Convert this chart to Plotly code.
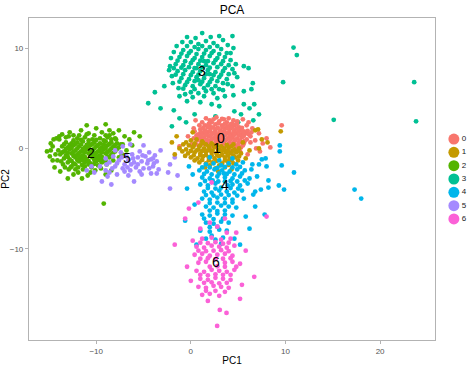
import plotly.graph_objects as go

clusters = ["0", "1", "2", "3", "4", "5", "6"]
colors = ["#F8766D", "#C49A00", "#53B400", "#00C094", "#00B6EB", "#A58AFF", "#FB61D7"]

# cluster label positions (PC1, PC2)
label_x = [3.2, 2.8, -10.5, 1.13, 3.6, -6.7, 2.64]
label_y = [1.05, 0.06, -0.5, 7.7, -3.6, -1.0, -11.3]

pts0 = [(2.2,2.6),(3.0,2.7),(3.8,2.6),(4.4,2.5),
        (1.5,2.3),(2.0,2.2),(2.6,2.4),(3.3,2.3),(3.9,2.2),(4.6,2.3),(5.1,2.1),
        (1.0,1.9),(1.5,1.8),(2.1,2.0),(2.6,1.9),(3.1,1.8),(3.6,2.0),(4.1,1.9),(4.6,1.8),(5.2,1.9),(5.6,1.7),
        (0.8,1.4),(1.3,1.5),(1.8,1.6),(2.3,1.5),(2.8,1.4),(3.3,1.6),(3.8,1.5),(4.3,1.4),(4.8,1.5),(5.3,1.4),(5.8,1.5),
        (0.9,1.0),(1.4,1.1),(1.9,1.2),(2.4,1.0),(2.9,1.1),(3.4,1.2),(3.9,1.0),(4.4,1.1),(4.9,1.0),(5.4,1.1),(5.9,0.9),
        (1.1,0.6),(1.6,0.7),(2.1,0.8),(2.6,0.6),(3.1,0.7),(3.6,0.8),(4.1,0.6),(4.6,0.7),(5.1,0.6),(5.6,0.5),
        (1.8,0.3),(2.3,0.2),(3.3,0.3),(3.8,0.2),(4.3,0.3),(4.8,0.2),(5.3,0.1),
        (3.5,-0.1),(4.1,-0.2),(4.7,-0.2),(5.2,-0.3),
        (6.3,1.2),(6.8,0.8),(7.2,1.5),(6.5,2.0),(7.6,0.5),(6.9,0.0),(8.0,1.0),(7.3,-0.3),(6.1,2.6),(5.5,2.9),
        (1.6,3.0),(0.3,2.0),(-0.3,1.2),(0.1,0.4),(9.6,2.3),(6.0,-0.6),(8.4,0.1),(0.5,2.8),(2.7,3.1),(4.0,3.0),
        (-1.2,0.2),(2.4,2.9),(3.5,2.9),(4.9,2.7),(1.2,2.6),
        (1.9,2.45),(2.9,2.5),(3.6,2.45),(4.2,2.4),(4.9,2.45),
        (1.3,2.05),(1.8,2.1),(2.35,2.1),(2.85,2.05),(3.35,2.1),(3.85,2.05),(4.35,2.1),(4.85,2.0),(5.4,2.05),
        (1.05,1.65),(1.55,1.7),(2.05,1.75),(2.55,1.65),(3.05,1.7),(3.55,1.75),(4.05,1.65),(4.55,1.7),(5.05,1.7),(5.5,1.6),(6.0,1.75),
        (0.6,1.3),(1.1,1.25),(1.6,1.35),(2.1,1.3),(2.6,1.25),(3.1,1.35),(3.6,1.3),(4.1,1.25),(4.6,1.35),(5.1,1.3),(5.6,1.25),(6.1,1.4),
        (0.7,0.85),(1.2,0.9),(1.7,0.85),(2.2,0.95),(2.7,0.85),(3.2,0.9),(3.7,0.85),(4.2,0.9),(4.7,0.85),(5.2,0.8),(5.7,0.75),
        (1.4,0.45),(2.0,0.5),(2.8,0.5),(3.5,0.5),(4.0,0.45),(4.5,0.5),(5.0,0.4),(5.5,0.3),
        (0.4,1.7),(0.3,1.0),(0.6,0.4),(0.9,2.3),(5.9,2.3),(6.3,0.6),(6.4,1.6),(2.0,2.8),(3.3,2.95),(4.5,2.8)]

pts1 = [(0.0,0.8),(0.6,0.9),(1.2,0.7),
        (-0.8,0.4),(-0.2,0.3),(0.4,0.5),(1.0,0.3),(1.6,0.4),(2.2,0.5),(2.8,0.3),(4.5,0.4),(5.5,0.6),
        (-1.2,0.0),(-0.5,-0.1),(0.2,0.1),(0.8,-0.1),(1.4,0.0),(2.0,-0.1),(2.5,0.1),(3.0,-0.1),(3.5,0.0),(4.0,0.1),(4.6,-0.1),(5.1,0.0),
        (-0.3,-0.5),(0.4,-0.4),(1.0,-0.5),(1.6,-0.3),(2.2,-0.4),(2.7,-0.5),(3.2,-0.3),(3.7,-0.4),(4.2,-0.5),(4.8,-0.4),(5.3,-0.5),
        (0.0,-0.9),(0.7,-1.0),(1.3,-0.8),(1.9,-0.9),(2.5,-1.0),(3.0,-0.8),(3.6,-0.9),(4.1,-1.0),(4.7,-0.9),
        (0.9,-1.4),(1.6,-1.5),(2.3,-1.4),(3.3,-1.5),(3.9,-1.3),(4.5,-1.5),(5.0,-1.2),
        (1.5,-1.9),(2.6,-2.0),(3.6,-1.9),(4.3,-2.1),
        (-2.0,0.6),(-1.7,-0.6),(6.2,-0.2),(7.5,0.9),(6.8,1.8),(-1.5,1.2),(5.8,-1.0),(0.2,1.6),(9.5,1.7),
        (7.1,1.9),(8.1,0.6),(7.2,0.0),
        (0.3,0.25),(0.9,0.2),(1.3,0.55),(1.9,0.2),(2.4,0.3),(3.2,0.2),(3.8,0.35),(4.3,0.2),(-0.5,0.6),
        (-0.9,-0.3),(0.0,-0.25),(0.6,-0.2),(1.2,-0.25),(1.8,-0.2),(2.3,-0.25),(2.9,-0.2),(3.4,-0.2),(3.9,-0.25),(4.4,-0.25),(5.0,-0.25),
        (-0.6,-0.75),(0.3,-0.7),(1.0,-0.7),(1.6,-0.65),(2.2,-0.7),(2.8,-0.7),(3.3,-0.65),(3.9,-0.7),(4.5,-0.7),(5.1,-0.8),
        (0.4,-1.2),(1.2,-1.15),(1.9,-1.2),(2.7,-1.25),(3.6,-1.2),(4.3,-1.2),(2.0,-1.7),(3.0,-1.7),(4.0,-1.65),(2.9,-2.3)]

pts2 = [(-12.0,1.0),(-11.2,1.1),(-10.4,0.9),(-9.6,1.0),(-8.8,1.1),
        (-13.2,0.6),(-12.6,0.5),(-12.0,0.6),(-11.4,0.7),(-10.8,0.5),(-10.2,0.6),(-9.6,0.5),(-9.0,0.7),(-8.4,0.6),(-7.8,0.5),
        (-13.6,0.2),(-13.0,0.1),(-12.4,0.3),(-11.8,0.2),(-11.2,0.1),(-10.6,0.3),(-10.0,0.2),(-9.4,0.1),(-8.8,0.3),(-8.2,0.2),(-7.6,0.1),
        (-14.0,-0.2),(-13.4,-0.3),(-12.8,-0.1),(-12.2,-0.2),(-11.6,-0.3),(-11.0,-0.1),(-10.4,-0.2),(-9.8,-0.3),(-9.2,-0.1),(-8.6,-0.2),(-8.0,-0.3),
        (-13.8,-0.6),(-13.2,-0.7),(-12.6,-0.5),(-12.0,-0.6),(-11.4,-0.7),(-10.8,-0.5),(-10.2,-0.6),(-9.6,-0.7),(-9.0,-0.5),(-8.4,-0.6),
        (-13.4,-1.0),(-12.8,-1.1),(-12.2,-0.9),(-11.6,-1.0),(-11.0,-1.1),(-10.4,-0.9),(-9.8,-1.0),(-9.2,-1.1),(-8.6,-0.9),
        (-13.0,-1.4),(-12.4,-1.5),(-11.8,-1.3),(-11.2,-1.4),(-10.6,-1.5),(-10.0,-1.3),(-9.4,-1.4),
        (-12.6,-1.8),(-11.9,-1.9),(-11.2,-1.8),(-10.5,-1.9),(-9.8,-1.7),
        (-15.2,-0.3),(-14.8,0.5),(-14.6,-1.2),(-14.2,1.0),(-14.4,-1.9),(-13.6,1.4),(-13.8,-2.3),(-12.8,1.6),
        (-12.4,-2.6),(-11.6,1.8),(-11.0,2.3),(-10.6,-2.4),(-10.0,2.0),(-9.4,1.6),(-9.0,2.4),(-8.2,1.5),(-7.6,1.8),
        (-7.0,1.2),(-6.5,0.9),(-6.0,1.6),(-5.4,1.2),(-7.2,0.4),(-6.8,-0.2),(-13.0,-3.0),(-9.2,-5.5),(-8.4,-2.2),
        (-9.0,-2.6),(-11.5,-3.0),(-12.4,1.3),(-10.8,1.5),(-8.0,1.0),(-14.9,-0.8),
        (-12.4,0.8),(-11.6,0.85),(-10.8,0.8),(-10.0,0.85),(-9.2,0.8),(-8.4,0.9),
        (-13.4,0.4),(-12.8,0.35),(-12.2,0.45),(-11.6,0.4),(-11.0,0.35),(-10.4,0.45),(-9.8,0.35),(-9.2,0.4),(-8.6,0.45),(-8.0,0.35),(-7.4,0.4),
        (-13.2,-0.05),(-12.6,0.05),(-12.0,0.0),(-11.4,-0.05),(-10.8,0.05),(-10.2,0.0),(-9.6,-0.05),(-9.0,0.05),(-8.4,0.0),(-7.8,-0.05),
        (-13.6,-0.4),(-13.0,-0.45),(-12.4,-0.35),(-11.8,-0.45),(-11.2,-0.4),(-10.6,-0.35),(-10.0,-0.45),(-9.4,-0.4),(-8.8,-0.35),(-8.2,-0.45),
        (-13.0,-0.85),(-12.4,-0.75),(-11.8,-0.8),(-11.2,-0.85),(-10.6,-0.75),(-10.0,-0.8),(-9.4,-0.85),(-8.8,-0.8),
        (-12.6,-1.25),(-12.0,-1.15),(-11.4,-1.2),(-10.8,-1.25),(-10.2,-1.15),(-9.6,-1.2),(-9.0,-1.25),
        (-12.2,-1.6),(-11.5,-1.65),(-10.8,-1.6),(-10.2,-1.55),
        (-14.6,0.2),(-14.3,-0.6),(-13.9,0.9),(-13.5,-1.6),(-12.9,-2.1),(-11.9,-2.4),(-10.9,-2.7),(-10.1,-2.2),
        (-9.0,1.3),(-8.6,1.8),(-7.3,-0.6),(-6.2,0.3),
        (-14.5,0.9),(-13.9,1.2),(-13.2,1.1),(-12.9,1.2),(-14.1,-1.2),(-13.7,-1.3),(-13.3,-1.9),(-12.2,-2.1),
        (-11.4,-2.1),(-9.5,-2.0),(-8.9,-1.6),(-8.2,-1.2),(-7.6,-0.9),(-7.9,0.9),(-8.6,1.3),(-10.2,1.3),
        (-11.0,1.4),(-11.8,1.3),(-14.8,-0.2),(-12.7,-1.9)]

pts3 = [(0.0,10.6),(0.8,10.4),(1.6,10.7),(2.4,10.5),
        (-0.8,9.8),(0.0,9.7),(0.8,9.9),(1.6,9.8),(2.4,9.7),(3.2,9.9),
        (-1.2,9.1),(-0.4,9.2),(0.4,9.0),(1.2,9.1),(2.0,9.2),(2.8,9.0),(3.6,9.1),
        (-1.6,8.4),(-0.8,8.3),(0.0,8.5),(0.8,8.4),(1.6,8.3),(2.4,8.5),(3.2,8.4),(4.0,8.3),
        (-1.4,7.7),(-0.6,7.8),(0.2,7.6),(1.0,7.7),(1.8,7.8),(2.6,7.6),(3.4,7.7),
        (-1.0,7.0),(-0.2,6.9),(0.6,7.1),(1.4,7.0),(2.2,6.9),(3.0,7.1),(3.8,6.9),
        (-0.6,6.3),(0.2,6.2),(1.0,6.4),(1.8,6.3),(2.6,6.2),
        (0.0,5.6),(0.8,5.5),(1.6,5.7),(2.4,5.5),
        (1.2,11.5),(-0.4,11.1),(3.0,11.2),(3.4,10.8),(4.2,9.5),(4.6,7.5),(-2.0,7.2),(-1.8,9.6),(-2.2,8.2),
        (4.4,6.2),(3.6,5.2),(-1.2,5.2),(-0.4,4.7),(1.0,4.6),(2.2,4.4),(3.0,4.2),(5.6,8.2),
        (-1.8,3.8),(0.4,3.4),(2.6,3.2),(5.0,2.6),(6.6,2.8),(-3.2,4.0),(-4.5,4.5),(-2.0,2.2),(-0.5,2.6),
        (9.75,6.6),(10.85,10.05),(11.2,9.3),(23.6,6.6),(23.8,2.7),(15.1,2.85),
        (4.4,11.2),(4.5,10.0),(4.75,8.4),(6.1,8.0),(4.9,7.1),(6.55,6.5),(6.4,5.9),(5.6,5.7),(4.5,5.3),
        (5.6,4.4),(6.7,4.4),(6.2,4.0),(4.6,3.7),(5.3,3.4),(7.2,3.4),(-1.2,3.0),(-3.8,5.6),(-2.8,6.2),
        (0.4,8.0),(1.4,8.7),(2.0,7.4),(0.8,6.8),
        (-0.4,10.2),(0.4,10.1),(1.2,10.2),(2.0,10.1),(2.8,10.2),
        (-1.0,9.45),(-0.2,9.5),(0.6,9.4),(1.4,9.45),(2.2,9.5),(3.0,9.4),(3.8,9.5),
        (-1.4,8.75),(-0.6,8.7),(0.2,8.8),(1.0,8.75),(1.8,8.7),(2.6,8.8),(3.4,8.7),
        (-1.8,8.0),(-1.0,8.05),(-0.2,8.1),(0.6,8.0),(1.2,8.1),(2.0,8.05),(2.8,8.1),(3.6,8.0),
        (-1.6,7.35),(-0.8,7.4),(0.0,7.3),(0.8,7.35),(1.6,7.4),(2.4,7.3),(3.2,7.35),(4.0,7.4),
        (-1.2,6.65),(-0.4,6.6),(0.4,6.7),(1.2,6.65),(2.0,6.6),(2.8,6.7),(3.4,6.5),
        (-0.8,5.95),(0.4,5.9),(1.4,6.0),(2.2,5.9),(3.0,5.9),
        (0.2,5.1),(1.4,5.2),(2.8,5.0),
        (-2.1,9.0),(-1.5,10.2),(-0.9,10.6),(3.9,10.3),(4.2,8.8),(4.4,7.9),(-2.3,7.8),(-1.9,6.5),
        (-1.3,6.0),(3.9,6.4),(3.4,5.8),(-0.6,5.4),(0.5,11.0),(2.1,11.1)]

pts4 = [(1.6,-1.6),(2.4,-1.5),(3.2,-1.7),(4.0,-1.5),(4.8,-1.6),(5.5,-1.4),
        (0.9,-2.2),(1.7,-2.3),(2.5,-2.1),(3.3,-2.2),(4.1,-2.3),(4.9,-2.1),(5.7,-2.2),
        (1.2,-2.9),(2.0,-3.0),(2.8,-2.8),(3.6,-2.9),(4.4,-3.0),(5.2,-2.8),(6.2,-3.0),
        (1.0,-3.6),(1.8,-3.7),(2.6,-3.5),(4.4,-3.6),(5.2,-3.7),(6.0,-3.5),
        (1.4,-4.3),(2.2,-4.4),(3.0,-4.2),(3.8,-4.3),(4.6,-4.4),(5.4,-4.2),
        (1.2,-5.0),(2.0,-5.1),(2.8,-4.9),(3.6,-5.0),(4.4,-5.1),(5.6,-5.0),
        (1.6,-5.8),(2.4,-5.9),(3.2,-5.7),(4.0,-5.8),(4.8,-5.9),
        (1.2,-6.6),(2.0,-6.7),(2.8,-6.5),(3.6,-6.6),(4.4,-6.7),
        (1.6,-7.4),(2.4,-7.5),(3.2,-7.3),(4.0,-7.4),
        (1.0,-8.2),(2.0,-8.3),(3.0,-8.1),(3.8,-8.2),
        (1.6,-9.0),(2.6,-9.1),(3.4,-8.9),
        (0.2,-2.6),(-0.4,-4.0),(0.4,-5.6),(6.6,-4.6),(6.8,-5.8),(17.3,-4.1),(18.0,-5.0),
        (5.8,-6.8),(6.2,-8.0),(0.6,-9.6),(4.6,-9.0),(-0.6,-7.2),(7.8,-6.6),(3.0,-1.2),(2.0,-0.9),(4.4,-1.0),
        (6.5,-1.6),(5.2,-9.6),(-0.2,-1.8),(3.2,-3.9),(3.9,-3.7),(2.9,-3.3),(3.5,-2.5),
        (9.4,0.3),(9.4,-0.3),(7.9,-1.0),(7.5,-1.1),(8.0,-1.8),(7.2,-1.6),(6.4,-2.1),(8.2,-3.2),(7.0,-2.8),
        (9.3,-3.7),(9.85,-4.1),(7.4,-4.1),(6.8,-4.3),(8.2,-3.9),(10.9,-2.4),(9.6,-1.7),
        (1.2,-1.9),(2.0,-1.9),(2.8,-1.95),(3.6,-1.85),(4.4,-1.9),(5.2,-1.85),
        (1.4,-2.55),(2.2,-2.6),(3.0,-2.5),(3.8,-2.55),(4.6,-2.6),(5.4,-2.5),
        (1.5,-3.25),(2.3,-3.2),(3.6,-3.3),(4.2,-3.25),(4.9,-3.3),(5.7,-3.2),
        (1.8,-3.95),(2.6,-4.0),(4.2,-3.95),(5.0,-4.0),
        (1.6,-4.65),(2.4,-4.7),(3.2,-4.6),(4.0,-4.65),(4.9,-4.7),
        (2.0,-5.45),(2.8,-5.4),(3.6,-5.45),(4.4,-5.4),
        (2.0,-6.2),(2.8,-6.25),(3.6,-6.2),(1.4,-7.0),(2.4,-7.05),(3.4,-7.0),
        (2.0,-7.85),(2.8,-7.8),(2.2,-8.7),(3.2,-9.5)]

pts5 = [(-9.6,-1.8),(-9.0,-2.2),(-8.6,-1.4),(-8.2,-0.8),(-8.0,-1.8),(-7.6,-1.2),(-7.4,-0.4),(-7.2,-2.0),
        (-7.0,-1.6),(-6.8,-0.8),(-6.6,-1.2),(-6.4,-2.2),(-6.2,-0.6),(-6.0,-1.4),(-5.8,-1.9),(-5.6,-0.9),
        (-5.4,-0.3),(-5.2,-1.3),(-5.0,-2.0),(-4.8,-0.8),(-4.6,-1.5),(-4.4,-0.4),(-4.2,-1.1),(-4.0,-1.8),
        (-3.8,-0.7),(-3.6,-1.3),(-7.8,-2.6),(-8.8,-2.8),(-6.6,-2.7),(-5.2,-2.6),(-9.4,-3.3),(-10.2,-2.4),
        (-7.2,0.2),(-6.4,0.4),(-5.0,0.3),(-8.4,-3.6),(-6.0,-3.3),(-4.2,-2.5),(-3.4,-2.1),(-8.0,-0.2),
        (-9.0,-1.0),(-10.5,-1.8),(-11.0,-2.2),(-2.4,-2.4),(-2.2,-1.6),(-1.7,-0.9),(-3.2,-0.2),
        (-4.0,-1.0),(-3.6,-2.5),(-2.2,-4.0),(-1.4,-2.7),
        (-8.9,-1.6),(-8.3,-2.0),(-7.8,-1.5),(-7.3,-0.9),(-6.7,-1.9),(-6.1,-1.0),(-5.6,-1.6),(-5.1,-0.7),
        (-4.5,-1.2),(-3.9,-1.5),(-7.0,-2.3),(-6.3,-1.6),(-5.4,-2.3),(-4.4,-2.0),(-8.6,-2.4)]

pts6 = [(1.0,-8.0),(2.8,-7.8),(3.8,-8.4),
        (0.2,-9.2),(1.2,-9.0),(2.2,-8.9),(3.2,-9.1),(4.2,-9.0),
        (0.6,-9.8),(1.4,-9.9),(2.2,-9.7),(3.0,-9.8),(3.8,-9.9),(4.6,-9.7),
        (0.4,-10.6),(1.2,-10.5),(2.0,-10.7),(2.8,-10.6),(3.6,-10.5),(4.4,-10.7),
        (0.8,-11.4),(1.6,-11.3),(3.6,-11.4),(4.4,-11.3),(5.2,-11.5),
        (0.6,-12.2),(1.4,-12.3),(2.2,-12.1),(3.0,-12.2),(3.8,-12.3),(4.6,-12.1),
        (1.0,-13.0),(1.8,-13.1),(2.6,-12.9),(3.4,-13.0),(4.2,-13.1),
        (0.8,-13.8),(1.6,-13.9),(2.4,-13.7),(3.2,-13.8),(4.0,-13.9),
        (1.2,-14.6),(2.0,-14.5),(3.0,-14.7),
        (-1.7,-9.6),(-0.6,-7.0),(8.0,-6.8),(6.7,-12.8),(5.8,-10.2),(-0.4,-11.8),(0.0,-13.2),(5.4,-13.6),
        (4.8,-8.4),(1.8,-15.2),(3.06,-16.1),(3.77,-16.4),(2.78,-17.7),(-0.2,-6.0),(0.8,-5.4),(5.2,-15.0),
        (2.2,-3.4),(3.6,-7.0),(2.0,-7.4),
        (1.0,-9.4),(1.8,-9.45),(2.6,-9.35),(3.4,-9.5),(4.0,-9.4),
        (0.8,-10.2),(1.6,-10.25),(2.4,-10.2),(3.2,-10.15),(4.0,-10.25),
        (1.0,-11.0),(1.8,-10.95),(2.6,-11.05),(3.4,-11.0),(4.2,-10.95),(2.0,-11.8),(2.8,-11.75),(3.6,-11.8),(4.8,-11.8),
        (1.0,-12.6),(1.8,-12.65),(2.6,-12.55),(3.4,-12.6),(4.2,-12.6),
        (1.4,-13.4),(2.2,-13.35),(3.0,-13.45),(3.8,-13.4),
        (1.6,-14.2),(2.6,-14.2),(3.6,-14.3)]

points = {"0": pts0, "1": pts1, "2": pts2, "3": pts3, "4": pts4, "5": pts5, "6": pts6}
draw_order = ["3", "2", "5", "0", "1", "4", "6"]

x_ticks = [-10, 0, 10, 20]
y_ticks = [-10, 0, 10]

FONT = "Liberation Sans, Arial, sans-serif"

fig = go.Figure()
for c in draw_order:
    i = clusters.index(c)
    xs = [p[0] for p in points[c]]
    ys = [p[1] for p in points[c]]
    fig.add_trace(go.Scatter(x=xs, y=ys, mode="markers", showlegend=False,
                             marker=dict(size=4.8, color=colors[i], line=dict(width=0))))

# legend as its own small axis
fig.add_trace(go.Scatter(x=[0] * len(clusters), y=list(range(len(clusters))), mode="markers+text",
                         text=clusters, textposition="middle right",
                         textfont=dict(size=8, color="#222", family=FONT),
                         marker=dict(size=11, color=colors, line=dict(width=0)),
                         xaxis="x2", yaxis="y2", showlegend=False, cliponaxis=False))

for i, c in enumerate(clusters):
    fig.add_annotation(x=label_x[i], y=label_y[i], text=c, showarrow=False,
                       font=dict(size=14, color="black", family=FONT))

axis_common = dict(showgrid=False, zeroline=False, showline=True, linecolor="#b3b3b3", linewidth=1.2,
                   mirror=True, ticks="outside", ticklen=3, tickcolor="#b3b3b3", tickwidth=1,
                   tickfont=dict(size=8, color="#555", family=FONT))

fig.update_layout(
    width=474, height=366,
    margin=dict(l=29, r=4, t=18, b=26, autoexpand=False),
    paper_bgcolor="white", plot_bgcolor="white",
    title=dict(text="PCA", x=(29 + 435) / 2 / 474, xanchor="center", y=1 - 10 / 366, yanchor="middle",
               font=dict(size=12, color="black", family=FONT)),
    xaxis=dict(domain=[0, (435 - 29) / 441], range=[-17.1, 25.8], tickvals=x_ticks,
               title=dict(text="PC1", standoff=3, font=dict(size=10, color="black", family=FONT)),
               **axis_common),
    yaxis=dict(range=[-19.1, 13.0], tickvals=y_ticks,
               title=dict(text="PC2", standoff=2, font=dict(size=10, color="black", family=FONT)),
               **axis_common),
    xaxis2=dict(domain=[0.952, 1.0], range=[-0.5, 1.6], visible=False, anchor="y2"),
    yaxis2=dict(domain=[0.348, 0.652], range=[6.675, -0.675], visible=False, anchor="x2"),
)

fig.write_html("out.html", config={"displayModeBar": False},
               post_script="document.body.style.margin='0px';document.body.style.padding='0px';")
